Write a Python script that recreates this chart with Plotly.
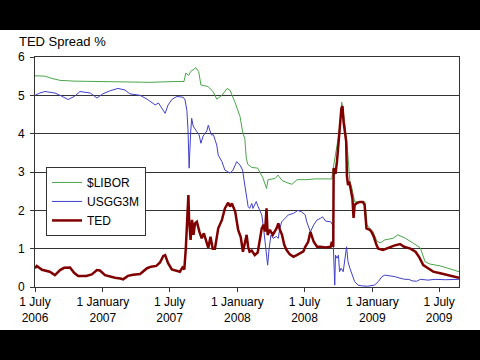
import plotly.graph_objects as go

# ---------------- data ----------------
libor_dates = ["2006-07-01","2006-07-28","2006-08-16","2006-09-07","2006-10-17","2006-12-24",
    "2007-03-16","2007-05-09","2007-07-16","2007-08-09","2007-08-14","2007-08-22","2007-08-27",
    "2007-09-10","2007-09-18","2007-09-24","2007-10-13","2007-10-27","2007-11-06","2007-11-20",
    "2007-12-04","2007-12-12","2007-12-25","2008-01-08","2008-01-16","2008-01-21","2008-01-25",
    "2008-01-29","2008-02-09","2008-02-25","2008-03-10","2008-03-20","2008-03-24","2008-04-12",
    "2008-04-20","2008-05-01","2008-05-15","2008-05-28","2008-06-11","2008-07-05","2008-07-30",
    "2008-08-17","2008-09-13","2008-09-16","2008-09-21","2008-09-29","2008-10-04","2008-10-10",
    "2008-10-18","2008-10-26","2008-11-01","2008-11-06","2008-11-14","2008-11-28","2008-12-12",
    "2008-12-17","2009-01-03","2009-01-13","2009-01-22","2009-02-04","2009-02-26","2009-03-11",
    "2009-03-30","2009-04-21","2009-05-11","2009-05-24","2009-06-06","2009-07-04","2009-07-31",
    "2009-08-24"]
libor_vals = [5.51,5.50,5.44,5.39,5.37,5.36,
    5.33,5.34,5.36,5.36,5.58,5.52,5.62,
    5.72,5.62,5.27,5.23,5.10,4.90,5.00,
    5.18,5.13,4.83,4.45,4.00,3.88,3.36,
    3.20,3.12,3.10,2.85,2.57,2.80,2.83,
    2.92,2.78,2.72,2.68,2.80,2.80,2.82,
    2.82,2.82,3.05,3.30,3.80,4.10,4.82,
    4.30,3.53,2.75,2.60,2.22,2.22,2.22,
    1.62,1.44,1.20,1.15,1.23,1.27,1.36,
    1.28,1.15,1.02,0.66,0.60,0.55,0.48,
    0.40]

usgg_dates = ["2006-07-01","2006-07-14","2006-07-28","2006-08-24","2006-09-07","2006-09-21",
    "2006-09-29","2006-10-17","2006-10-31","2006-11-28","2006-12-16","2007-01-01","2007-01-21",
    "2007-02-11","2007-03-02","2007-03-15","2007-04-12","2007-05-01","2007-05-15","2007-05-23",
    "2007-06-01","2007-06-11","2007-06-19","2007-06-27","2007-07-08","2007-07-21","2007-08-07",
    "2007-08-12","2007-08-17","2007-08-20","2007-08-23","2007-08-27","2007-08-30","2007-09-03",
    "2007-09-08","2007-09-13","2007-09-19","2007-09-24","2007-09-30","2007-10-10","2007-10-14",
    "2007-10-22","2007-10-28","2007-11-06","2007-11-10","2007-11-20","2007-11-28","2007-12-12",
    "2007-12-20","2007-12-30","2008-01-08","2008-01-15","2008-01-21","2008-01-26","2008-01-30",
    "2008-02-03","2008-02-09","2008-02-12","2008-02-21","2008-02-26","2008-03-07","2008-03-12",
    "2008-03-16","2008-03-20","2008-03-23","2008-03-27","2008-04-01","2008-04-07","2008-04-16",
    "2008-04-21","2008-04-25","2008-04-30","2008-05-09","2008-05-18","2008-06-01","2008-06-13",
    "2008-06-23","2008-07-03","2008-07-07","2008-07-17","2008-07-26","2008-08-04","2008-08-13",
    "2008-08-19","2008-08-27","2008-09-10","2008-09-15","2008-09-18","2008-09-21","2008-09-23",
    "2008-09-27","2008-10-01","2008-10-04","2008-10-08","2008-10-14","2008-10-23","2008-10-27",
    "2008-11-01","2008-11-07","2008-11-14","2008-11-23","2008-12-03","2008-12-19","2009-01-07",
    "2009-01-17","2009-01-27","2009-02-04","2009-02-17","2009-03-03","2009-03-17","2009-03-30",
    "2009-04-10","2009-04-19","2009-05-01","2009-05-11","2009-06-01","2009-06-20","2009-07-18",
    "2009-08-24"]
usgg_vals = [5.00,5.06,5.10,5.06,5.00,4.93,
    4.89,4.98,5.10,5.06,4.93,5.04,5.12,
    5.18,5.14,5.04,5.00,4.90,4.80,4.75,
    4.80,4.66,4.53,4.75,4.90,4.97,4.95,
    4.88,4.60,4.10,3.10,4.00,4.40,4.20,
    4.14,4.05,3.97,3.75,3.94,4.07,4.22,
    3.97,3.97,3.70,3.44,3.27,3.05,2.97,
    3.05,3.27,3.18,3.05,2.66,2.31,2.10,
    2.05,2.18,2.05,2.23,2.10,1.88,1.53,
    1.18,0.75,0.57,1.00,1.36,1.27,1.32,
    1.27,1.53,1.70,1.79,1.88,1.92,2.00,
    1.96,1.88,1.70,1.44,1.62,1.75,1.79,
    1.83,1.72,1.70,1.62,0.92,0.05,0.83,
    0.75,0.83,0.40,0.49,0.40,1.05,0.66,
    0.49,0.31,0.14,0.05,0.03,0.02,0.05,
    0.14,0.27,0.31,0.30,0.27,0.23,0.20,
    0.20,0.16,0.15,0.20,0.18,0.20,0.19,
    0.20]

ted_dates = ["2006-07-01","2006-07-06","2006-07-20","2006-08-10","2006-08-24","2006-09-07",
    "2006-09-18","2006-10-04","2006-10-15","2006-10-26","2006-11-17","2006-12-02","2006-12-16",
    "2006-12-24","2007-01-07","2007-01-21","2007-02-03","2007-02-17","2007-02-25","2007-03-10",
    "2007-03-24","2007-04-12","2007-05-01","2007-05-12","2007-05-26","2007-06-05","2007-06-14",
    "2007-06-19","2007-06-27","2007-07-07","2007-07-21","2007-07-29","2007-08-05","2007-08-10",
    "2007-08-14","2007-08-17","2007-08-21","2007-08-23","2007-08-27","2007-08-31","2007-09-04",
    "2007-09-08","2007-09-13","2007-09-20","2007-09-26","2007-10-02","2007-10-08","2007-10-14",
    "2007-10-20","2007-10-26","2007-11-01","2007-11-10","2007-11-20","2007-11-28","2007-12-07",
    "2007-12-12","2007-12-17","2007-12-26","2008-01-03","2008-01-10","2008-01-16","2008-01-21",
    "2008-01-26","2008-01-30","2008-02-03","2008-02-09","2008-02-17","2008-02-25","2008-03-07",
    "2008-03-12","2008-03-16","2008-03-20","2008-03-23","2008-03-29","2008-04-06","2008-04-16",
    "2008-04-21","2008-04-25","2008-05-01","2008-05-07","2008-05-13","2008-05-22","2008-06-01",
    "2008-06-10","2008-06-19","2008-06-28","2008-07-03","2008-07-11","2008-07-17","2008-07-22",
    "2008-07-26","2008-08-04","2008-08-13","2008-08-27","2008-09-10","2008-09-13","2008-09-17",
    "2008-09-18","2008-09-23","2008-09-27","2008-10-01","2008-10-05","2008-10-09","2008-10-12",
    "2008-10-15","2008-10-22","2008-10-24","2008-10-27","2008-10-30","2008-11-03","2008-11-08",
    "2008-11-11","2008-11-14","2008-11-19","2008-11-28","2008-12-06","2008-12-11","2008-12-16",
    "2008-12-25","2008-12-29","2009-01-05","2009-01-12","2009-01-17","2009-01-30","2009-02-18",
    "2009-03-01","2009-03-17","2009-03-28","2009-04-14","2009-04-28","2009-05-08","2009-05-19",
    "2009-05-30","2009-06-15","2009-07-04","2009-07-31","2009-08-24"]
ted_vals = [0.49,0.55,0.45,0.40,0.31,0.44,
    0.50,0.51,0.37,0.29,0.29,0.33,0.44,
    0.43,0.31,0.27,0.24,0.22,0.20,0.29,
    0.32,0.34,0.49,0.53,0.55,0.64,0.81,
    0.83,0.62,0.46,0.43,0.40,0.51,0.46,
    1.00,1.75,2.40,1.75,1.23,1.75,1.36,
    1.66,1.70,1.44,1.27,1.40,1.23,1.02,
    1.31,1.00,1.00,1.53,1.75,2.05,2.20,
    2.10,2.18,1.97,1.49,1.30,0.92,1.18,
    1.36,1.05,0.92,0.95,0.83,0.90,1.53,
    1.62,1.45,2.05,1.36,1.49,1.36,1.53,
    1.66,1.50,1.36,1.10,0.97,0.85,0.79,
    0.83,0.88,0.93,1.05,1.18,1.44,1.27,
    1.18,1.05,1.05,1.03,1.05,1.18,1.05,
    3.10,2.95,3.27,3.80,4.30,4.66,4.72,
    4.30,3.80,2.90,2.66,2.75,2.57,2.30,
    1.80,2.14,2.18,2.22,2.22,2.14,1.53,
    1.49,1.45,1.31,1.10,1.00,0.97,1.05,
    1.08,1.12,1.05,1.00,0.92,0.78,0.57,
    0.50,0.40,0.36,0.30,0.24]

tick_dates = ["2006-07-01","2007-01-01","2007-07-01","2008-01-01","2008-07-01","2009-01-01","2009-07-01"]
tick_labels = ["1 July<br>2006","1 January<br>2007","1 July<br>2007","1 January<br>2008",
               "1 July<br>2008","1 January<br>2009","1 July<br>2009"]
y_ticks = [0, 1, 2, 3, 4, 5, 6]

FONT = "Arial, Liberation Sans, sans-serif"

fig = go.Figure()
fig.add_trace(go.Scatter(x=libor_dates, y=libor_vals, mode="lines", name="$LIBOR",
                         line=dict(color="#4aa64a", width=1)))
fig.add_trace(go.Scatter(x=usgg_dates, y=usgg_vals, mode="lines", name="USGG3M",
                         line=dict(color="#3f3fcc", width=1)))
fig.add_trace(go.Scatter(x=ted_dates, y=ted_vals, mode="lines", name="TED",
                         line=dict(color="#800000", width=2.5)))

fig.update_layout(
    width=480, height=360,
    margin=dict(l=35, r=21, t=57, b=73),
    paper_bgcolor="white", plot_bgcolor="white",
    font=dict(family=FONT, size=12, color="black"),
    showlegend=True,
    legend=dict(x=0.026, y=0.522, xanchor="left", yanchor="top",
                bgcolor="white", bordercolor="#333333", borderwidth=1,
                font=dict(size=12), itemwidth=30, tracegroupgap=0),
    xaxis=dict(range=["2006-07-01", "2009-08-24"], tickmode="array",
               tickvals=tick_dates, ticktext=tick_labels,
               showgrid=False, showline=True, linecolor="#333333", linewidth=1,
               mirror=True, ticks="outside", ticklen=4, tickcolor="#333333",
               tickangle=0, tickfont=dict(size=12)),
    yaxis=dict(range=[0, 6], tickmode="array", tickvals=y_ticks,
               showgrid=True, gridcolor="#333333", gridwidth=1,
               showline=True, linecolor="#333333", linewidth=1, mirror=True,
               zeroline=False, ticks="outside", ticklen=4, tickcolor="#333333",
               ticklabelstandoff=3, tickfont=dict(size=12)),
    annotations=[dict(text="TED Spread %", xref="paper", yref="paper",
                      x=-0.043, y=1.025, xanchor="left", yanchor="bottom",
                      showarrow=False, font=dict(size=13, color="black"))],
    shapes=[
        dict(type="rect", xref="paper", yref="paper", x0=-0.2, x1=1.2,
             y0=1.117, y1=1.3, fillcolor="black", line=dict(width=0), layer="above"),
        dict(type="rect", xref="paper", yref="paper", x0=-0.2, x1=1.2,
             y0=-0.4, y1=-0.187, fillcolor="black", line=dict(width=0), layer="above"),
    ],
)

fig.write_html("out.html", config={"displayModeBar": False},
               post_script="document.body.style.margin='0';document.body.style.overflow='hidden';")
